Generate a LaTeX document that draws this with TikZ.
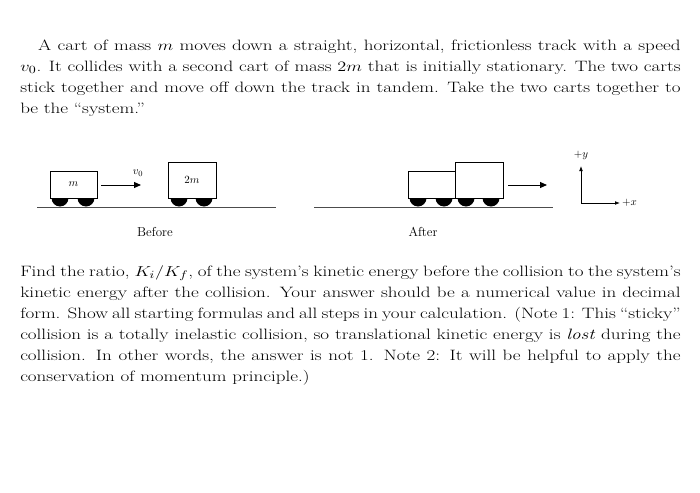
\documentclass[tikz,border=0pt]{standalone}
\usetikzlibrary{arrows.meta}
\begin{document}
\begin{tikzpicture}[x=1pt,y=-1pt,
  para/.style={anchor=north west,inner sep=0pt,xscale=1.27,transform shape,text width=520pt,align=justify,font=\fontsize{15}{21}\selectfont},
  cart/.style={draw,fill=white,line width=0.8pt},
  wheel/.style={fill=black},
  ground/.style={line width=1pt,draw=black!70},
  mv/.style={-{Triangle[length=7pt,width=6pt]},line width=1pt},
  ax/.style={-{Latex[length=5pt]},line width=0.8pt},
  lbl/.style={font=\fontsize{13}{15}\selectfont,inner sep=0pt},
  sm/.style={font=\fontsize{11}{13}\selectfont,inner sep=0pt}]
\useasboundingbox (0,0) rectangle (700,492);
\node[para] (t1) at (20,40) {\hspace*{14pt}A cart of mass $m$ moves down a straight, horizontal, frictionless track with a speed $v_0$. It collides with a second cart of mass $2m$ that is initially stationary. The two carts stick together and move off down the track in tandem. Take the two carts together to be the ``system.''};
\node[para] (t2) at (20,265) {Find the ratio, $K_i/K_f$, of the system's kinetic energy before the collision to the system's kinetic energy after the collision. Your answer should be a numerical value in decimal form. Show all starting formulas and all steps in your calculation. (Note 1: This ``sticky'' collision is a totally inelastic collision, so translational kinetic energy is \emph{lost} during the collision. In other words, the answer is not 1. Note 2: It will be helpful to apply the conservation of momentum principle.)};
% before
\draw[ground] (37,207) coordinate (g1) -- (276,207) coordinate (g2);
\foreach \cx in {60,86,179,204}{\fill[wheel] (\cx,198) circle[radius=8.5pt];}
\draw[cart] (50,171) rectangle (97,198);
\node[sm] (m) at (73.5,184.5) {$m$};
\draw[cart] (168,162) rectangle (216,198);
\node[sm] (m2) at (192,180) {$2m$};
\coordinate (a1) at (101,185); \coordinate (a2) at (141,185);
\draw[mv] (a1) -- (a2);
\node[sm] (v0) at (138,173) {$v_0$};
\node[lbl] (bef) at (155,232) {Before};
% after
\draw[ground] (314,207) coordinate (g3) -- (553,207) coordinate (g4);
\foreach \cx in {418,444,466,491}{\fill[wheel] (\cx,198) circle[radius=8.5pt];}
\draw[cart] (408,171) rectangle (455,198);
\draw[cart] (455,162) rectangle (503,198);
\coordinate (a3) at (508,185); \coordinate (a4) at (547,185);
\draw[mv] (a3) -- (a4);
\node[lbl] (aft) at (423,232) {After};
\coordinate (o) at (581,203);
\coordinate (yt) at (581,166);
\coordinate (xt) at (620,203);
\draw[ax] (o) -- (yt);
\draw[ax] (o) -- (xt);
\node[sm] (py) at (581,155) {$+y$};
\node[sm,anchor=west] (px) at (622,203) {$+x$};
\end{tikzpicture}
\end{document}
